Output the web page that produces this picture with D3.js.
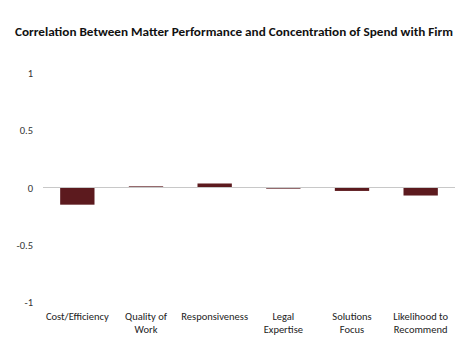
<!DOCTYPE html>
<html><head><meta charset="utf-8">
<script src="https://cdn.jsdelivr.net/npm/d3@7"></script>
<style>body{margin:0;background:#fff}svg{display:block}</style>
</head><body>
<svg id="c" width="474" height="355"></svg>
<script>
const categories = [["Cost/Efficiency"],["Quality of","Work"],["Responsiveness"],["Legal","Expertise"],["Solutions","Focus"],["Likelihood to","Recommend"]];
const values = [-0.15, 0.01, 0.035, -0.01, -0.03, -0.07];
const yTicks = [-1, -0.5, 0, 0.5, 1];
const title = "Correlation Between Matter Performance and Concentration of Spend with Firm";

const svg = d3.select("#c");
const font = "Carlito, 'Liberation Sans', Arial, sans-serif";
const x = d3.scaleBand().domain(d3.range(values.length)).range([43, 455]).paddingInner(0.5).paddingOuter(0.25);
const y = d3.scaleLinear().domain([-1, 1]).range([302, 73]);

svg.append("text").attr("x", 234).attr("y", 36).attr("text-anchor", "middle")
  .attr("font-family", font).attr("font-weight", "bold").attr("font-size", 12.5)
  .attr("textLength", 438).attr("lengthAdjust", "spacingAndGlyphs").attr("fill", "#111").text(title);

const yAxis = d3.axisLeft(y).tickValues(yTicks).tickSize(0).tickPadding(0).tickFormat(d => String(d));
const ga = svg.append("g").attr("transform", "translate(33,0)").call(yAxis);
ga.select(".domain").remove();
ga.selectAll("text").attr("font-family", font).attr("font-size", 10.5).attr("fill", "#333").attr("dy", "0.35em");

svg.selectAll("rect.bar").data(values).enter().append("rect").attr("class", "bar")
  .attr("x", (d, i) => x(i)).attr("width", x.bandwidth())
  .attr("y", d => y(Math.max(0, d))).attr("height", d => Math.abs(y(d) - y(0)))
  .attr("fill", "#5c1a1e");

svg.append("line").attr("x1", 43).attr("x2", 455).attr("y1", y(0)).attr("y2", y(0))
  .attr("stroke", "#c8c8c8").attr("stroke-width", 1);

const xl = svg.selectAll("text.xl").data(categories).enter().append("text").attr("class", "xl")
  .attr("text-anchor", "middle").attr("font-family", font).attr("font-size", 10.5).attr("fill", "#222")
  .attr("transform", (d, i) => `translate(${x(i) + x.bandwidth() / 2},320)`);
xl.selectAll("tspan").data(d => d).enter().append("tspan").attr("x", 0).attr("dy", (d, j) => j ? 12.5 : 0).text(d => d);
</script>
</body></html>
